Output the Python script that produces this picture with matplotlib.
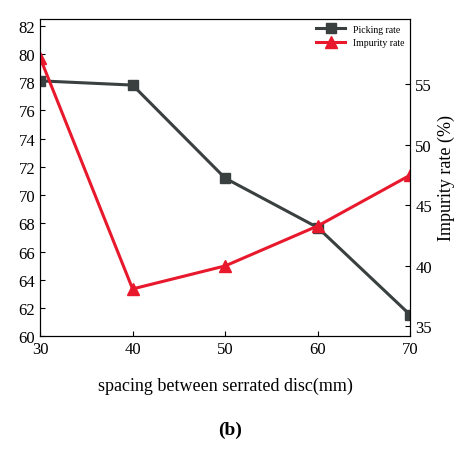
import matplotlib
matplotlib.use("Agg")
import matplotlib.pyplot as plt

plt.rcParams['font.family'] = ['Liberation Serif', 'DejaVu Serif']

spacing = [30, 40, 50, 60, 70]
picking = [78.1, 77.8, 71.2, 67.7, 61.5]
impurity = [57.2, 38.1, 40.0, 43.3, 47.5]
left_ticks = list(range(60, 84, 2))
right_ticks = [35, 40, 45, 50, 55]

fig = plt.figure(figsize=(4.6, 4.6), dpi=100)
ax = fig.add_axes([0.087, 0.267, 0.805, 0.69])
ax.plot(spacing, picking, color='#3a3f3f', marker='s', markersize=7, lw=2.2, label='Picking rate')
ax.set_xlim(30, 70)
ax.set_ylim(60, 82.5)
ax.set_xticks(spacing)
ax.set_yticks(left_ticks)
ax.tick_params(direction='in', labelsize=12)
ax.set_xlabel('spacing between serrated disc(mm)', fontsize=13, labelpad=14)

ax2 = ax.twinx()
ax2.plot(spacing, impurity, color='#e8192c', marker='^', markersize=9, lw=2.2, label='Impurity rate')
ax2.set_ylim(34.2, 60.4)
ax2.set_yticks(right_ticks)
ax2.tick_params(direction='in', labelsize=12)
ax2.set_ylabel('Impurity rate (%)', fontsize=13)

h1, l1 = ax.get_legend_handles_labels()
h2, l2 = ax2.get_legend_handles_labels()
ax2.legend(h1 + h2, l1 + l2, loc='upper right', fontsize=7, frameon=False,
           handlelength=3, borderaxespad=0.2)

fig.text(0.5, 0.055, '(b)', ha='center', fontsize=14, fontweight='bold')
fig.savefig('out.png', dpi=100)
